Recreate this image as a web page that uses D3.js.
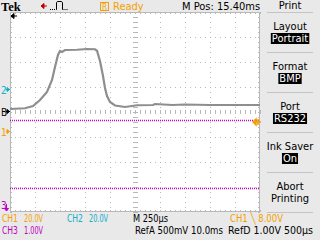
<!DOCTYPE html>
<html><head><meta charset="utf-8">
<script src="https://cdn.jsdelivr.net/npm/d3@7"></script>
<style>
html,body{margin:0;padding:0;background:#e9e9e9;}
svg{display:block;font-family:"Liberation Sans Narrow","DejaVu Sans Condensed","Liberation Sans",sans-serif;}
</style></head><body>
<div id="scope"></div>
<script>
// gray reference trace, in divisions (x from left edge, y from centre line)
const traceT = [0, 0.6, 0.92, 1.2, 1.48, 1.68, 1.8, 1.92, 2.0, 2.08, 2.2, 2.68, 3.08, 3.4, 3.48, 3.6, 3.72, 3.8, 3.88, 4.0, 4.2, 4.6, 4.88, 5.08, 5.72, 5.8, 6.5, 7.0, 8.0, 9.0, 10];
const traceV = [0.12, 0.15, 0.24, 0.48, 0.8, 1.28, 1.8, 2.28, 2.44, 2.4, 2.48, 2.49, 2.52, 2.51, 2.45, 2.04, 1.44, 0.96, 0.64, 0.4, 0.26, 0.2, 0.24, 0.27, 0.28, 0.32, 0.28, 0.3, 0.28, 0.28, 0.28];
// CH3 dotted levels
const ch3Levels = [-0.32, -3.04];
// channel ground markers
const markerLabels = ["2", "B", "1"];
const markerLevels = [0.88, 0, -0.8];
const trigLevel = -0.4;
// side menu
const menuTitles = ["Layout", "Format", "Port", "Ink Saver"];
const menuValues = ["Portrait", "BMP", "RS232", "On"];
// status readouts
const row1Text = ["CH1", "20.0V", "CH2", "20.0V", "M 250\u00b5s", "CH1 \u2572 8.00V"];
const row2Text = ["CH3", "1.00V", "RefA 500mV 10.0ms", "RefD 1.00V 500\u00b5s"];

const ORANGE = "#f4a000", CYAN = "#10b0c8", MAGENTA = "#c000c0";
const markerColors = [CYAN, "#000", ORANGE];
const row1Layout = [[2, 16, ORANGE], [24, 19, ORANGE], [67, 16, CYAN], [89, 19, CYAN], [133, 35, "#000"], [230, 53, ORANGE]];
const row2Layout = [[2, 16, MAGENTA], [24, 19, MAGENTA], [135, 88, "#000"], [228, 85, "#000"]];

const W = 320, H = 240;
const svg = d3.select("#scope").append("svg").attr("width", W).attr("height", H);
svg.append("rect").attr("width", W).attr("height", H).attr("fill", "#e9e9e9");

const x = d3.scaleLinear().domain([0, 10]).range([10, 260]);
const y = d3.scaleLinear().domain([-4, 4]).range([212, 12]);
const gridCol = "#b8b8b8";

svg.append("rect").attr("x", x(0)).attr("y", y(4)).attr("width", x(10) - x(0)).attr("height", y(-4) - y(4)).attr("fill", "#fff");

const grid = svg.append("g");
// dotted division lines
d3.range(1, 10).filter(d => d !== 5).forEach(d => {
  grid.append("line").attr("x1", x(d) + 0.5).attr("x2", x(d) + 0.5).attr("y1", y(4)).attr("y2", y(-4))
    .attr("stroke", gridCol).attr("stroke-dasharray", "1,4");
});
d3.range(-3, 4).filter(d => d !== 0).forEach(d => {
  grid.append("line").attr("y1", y(d) + 0.5).attr("y2", y(d) + 0.5).attr("x1", x(0)).attr("x2", x(10))
    .attr("stroke", gridCol).attr("stroke-dasharray", "1,4");
});
// centre axes with minor ticks
const minorX = d3.range(0, 10.01, 0.2), minorY = d3.range(-4, 4.01, 0.2);
grid.selectAll(".cx").data(minorX).join("line")
  .attr("x1", d => x(d) + 0.5).attr("x2", d => x(d) + 0.5).attr("y1", y(0) - 2).attr("y2", y(0) + 2).attr("stroke", gridCol);
grid.selectAll(".cy").data(minorY).join("line")
  .attr("y1", d => y(d) + 0.5).attr("y2", d => y(d) + 0.5).attr("x1", x(5) - 2).attr("x2", x(5) + 3).attr("stroke", gridCol);
// border ticks
grid.selectAll(".bt").data(minorX).join("line")
  .attr("x1", d => x(d) + 0.5).attr("x2", d => x(d) + 0.5).attr("y1", y(4)).attr("y2", y(4) + 2).attr("stroke", gridCol);
grid.selectAll(".bb").data(minorX).join("line")
  .attr("x1", d => x(d) + 0.5).attr("x2", d => x(d) + 0.5).attr("y1", y(-4) - 2).attr("y2", y(-4)).attr("stroke", gridCol);
grid.selectAll(".bl").data(minorY).join("line")
  .attr("y1", d => y(d) + 0.5).attr("y2", d => y(d) + 0.5).attr("x1", x(0)).attr("x2", x(0) + 2).attr("stroke", gridCol);
grid.selectAll(".br").data(minorY).join("line")
  .attr("y1", d => y(d) + 0.5).attr("y2", d => y(d) + 0.5).attr("x1", x(10) - 2).attr("x2", x(10)).attr("stroke", gridCol);
grid.append("rect").attr("x", x(0) + 0.5).attr("y", y(4) + 0.5).attr("width", x(10) - x(0) - 1).attr("height", y(-4) - y(4) - 1)
  .attr("fill", "none").attr("stroke", gridCol);

// CH3 dotted lines
svg.selectAll(".ch3").data(ch3Levels).join("line")
  .attr("x1", x(0)).attr("x2", x(10)).attr("y1", d => y(d) + 0.5).attr("y2", d => y(d) + 0.5)
  .attr("stroke", "#d000d0").attr("stroke-width", 1.3).attr("stroke-dasharray", "1,1");

// reference trace
const line = d3.line().x((d, i) => x(traceT[i])).y(d => y(d));
svg.append("path").datum(traceV).attr("d", line).attr("fill", "none")
  .attr("stroke", "#8e8e8e").attr("stroke-width", 2.2);

// ground markers on the left
markerLabels.forEach((m, i) => {
  const g = svg.append("g").attr("transform", `translate(0,${y(markerLevels[i])})`);
  g.append("text").attr("x", 1).attr("y", 3.5).attr("font-size", 10).attr("fill", markerColors[i]).text(m);
  g.append("path").attr("d", "M6,-0.5H10M7,-2.5L9.5,-0.5L7,1.5Z").attr("stroke", markerColors[i]).attr("fill", markerColors[i]);
});
// CH3 off-screen marker
svg.append("text").attr("x", 1).attr("y", 209).attr("font-size", 10).attr("fill", MAGENTA).text("3");
svg.append("path").attr("d", "M6.5,204V211M4.5,208.5L6.5,211L8.5,208.5Z").attr("stroke", MAGENTA).attr("fill", MAGENTA);
// trigger level marker on the right
svg.append("path").attr("transform", `translate(${x(10) - 3},${y(trigLevel)})`)
  .attr("d", "M-4,0H4M-4,0L-1,-3V3Z M1,-3V3").attr("stroke", ORANGE).attr("stroke-width", 1.5).attr("fill", ORANGE);
// trigger position marker on top
svg.append("path").attr("d", "M11,16H17M11,16L14,13.5V18.5Z").attr("stroke", "#000").attr("fill", "#000");

// top status line
svg.append("text").attr("x", 1).attr("y", 10.5).attr("font-family", "Liberation Serif, serif").attr("font-weight", "bold")
  .attr("font-size", 12.5).text("Tek");
svg.append("path").attr("d", "M41,6H47M41,6L44,3.5V8.5Z").attr("stroke", "#c00000").attr("fill", "#c00000");
svg.append("path").attr("d", "M50,9.5H56.5M62.5,9.5H68").attr("stroke", "#000").attr("fill", "none")
  .attr("stroke-dasharray", "1,1");
svg.append("path").attr("d", "M56.5,9.5V2.5Q57,1.5 58,1.5H61Q62,1.5 62.5,2.5V9.5").attr("stroke", "#000").attr("fill", "none");
svg.append("rect").attr("x", 100.5).attr("y", 2.5).attr("width", 8).attr("height", 8).attr("fill", "none").attr("stroke", ORANGE);
svg.append("text").attr("x", 104.5).attr("y", 9.5).attr("text-anchor", "middle").attr("font-size", 8).attr("fill", ORANGE).text("R");
svg.append("text").attr("x", 113).attr("y", 10).attr("font-size", 11).attr("fill", ORANGE).text("Ready");
svg.append("text").attr("x", 182).attr("y", 10).attr("font-size", 11).text("M Pos: 15.40ms");

// side menu
const mx = 290;
svg.append("text").attr("x", mx).attr("y", 9).attr("text-anchor", "middle").attr("font-size", 11).text("Print");
const seps = [12.5, 52.5, 92.5, 132.5, 172.5, 212.5];
svg.selectAll(".sep").data(seps).join("line").attr("x1", 267).attr("x2", 313).attr("y1", d => d).attr("y2", d => d)
  .attr("stroke", "#c4c4c4");
menuTitles.forEach((t, i) => {
  const top = seps[i];
  svg.append("text").attr("x", mx).attr("y", top + 17).attr("text-anchor", "middle").attr("font-size", 11).text(t);
  const v = svg.append("text").attr("x", mx).attr("y", top + 29).attr("text-anchor", "middle").attr("font-size", 11)
    .attr("fill", "#fff").text(menuValues[i]);
  const bb = v.node().getBBox();
  svg.insert("rect", () => v.node()).attr("x", bb.x - 1).attr("y", top + 20.5).attr("width", bb.width + 2).attr("height", 11).attr("fill", "#000");
});
svg.append("text").attr("x", mx).attr("y", seps[4] + 17).attr("text-anchor", "middle").attr("font-size", 11).text("Abort");
svg.append("text").attr("x", mx).attr("y", seps[4] + 29).attr("text-anchor", "middle").attr("font-size", 11).text("Printing");

// bottom readouts, squeezed to the reference widths
function readouts(texts, layout, base) {
  texts.forEach((t, i) => {
    const [lx, lw, col] = layout[i];
    svg.append("text").attr("x", lx).attr("y", base).attr("font-size", 11).attr("fill", col)
      .attr("textLength", lw).attr("lengthAdjust", "spacingAndGlyphs").text(t);
  });
}
readouts(row1Text, row1Layout, 222);
readouts(row2Text, row2Layout, 234);
</script>
</body></html>
